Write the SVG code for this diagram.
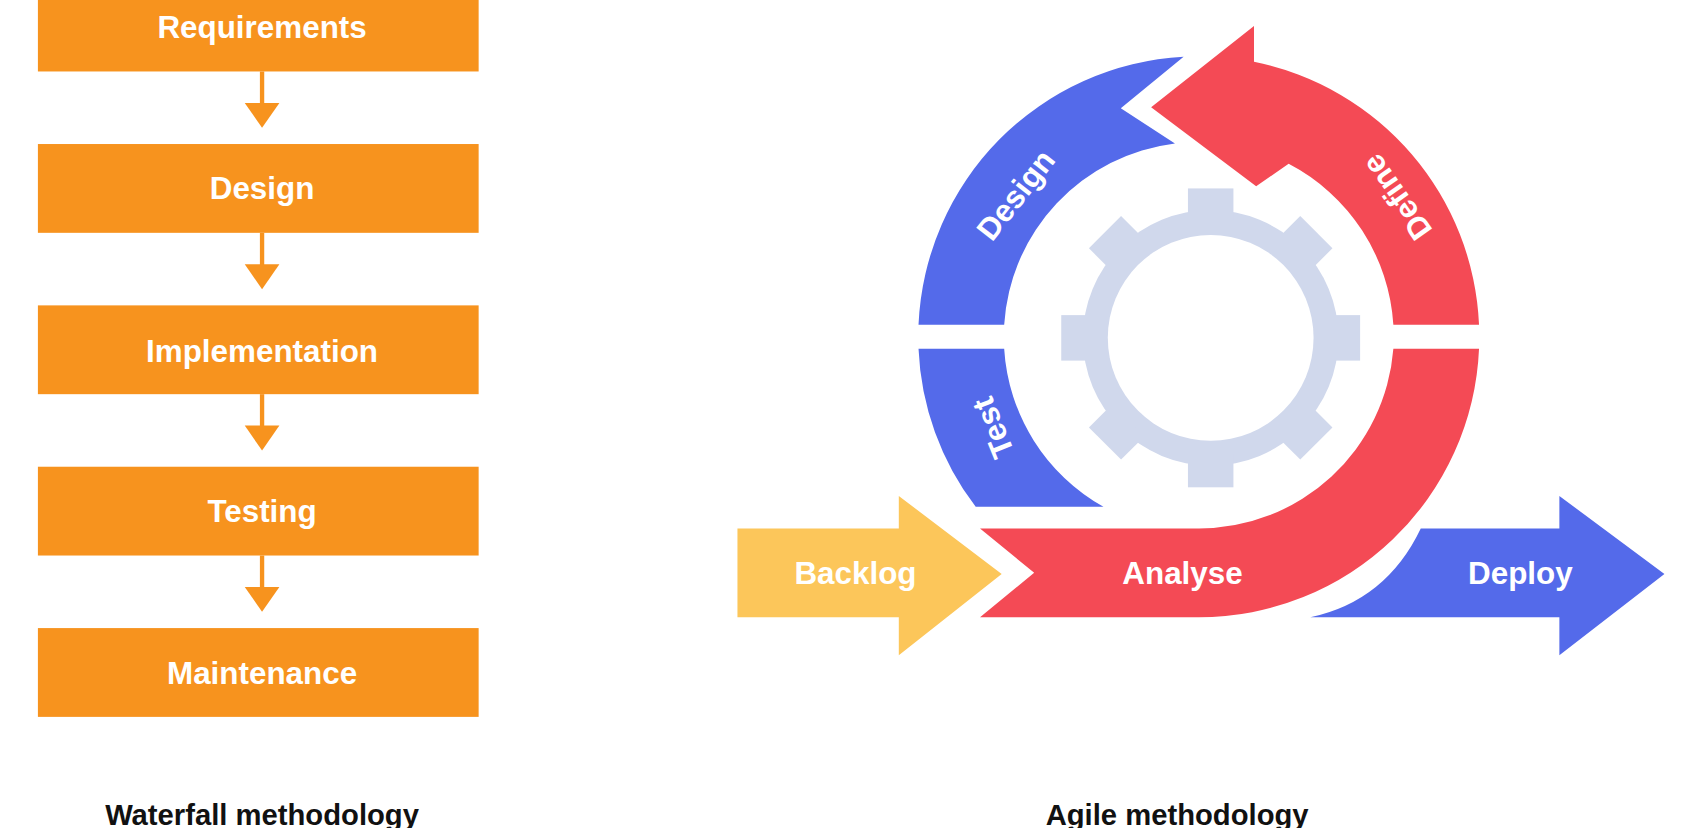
<svg xmlns="http://www.w3.org/2000/svg" width="1698" height="828" viewBox="0 0 1698 828">
<style>
.box{fill:#f7931e}
.wt{fill:#fff;font-family:"Liberation Sans",Arial,sans-serif;font-weight:bold;font-size:29px;text-anchor:middle}
.cap{fill:#111;font-family:"Liberation Sans",Arial,sans-serif;font-weight:bold;font-size:27px;text-anchor:middle}
.blue{fill:#546aea}.red{fill:#f44a55}.yel{fill:#fcc65a}.gear{fill:#d0d8ec}
</style>
<rect width="1698" height="828" fill="#fff"/>
<g transform="scale(1.0829)">
<g id="connectors" fill="#f7931e" stroke="none">
<rect x="240" y="66" width="4" height="32"/><polygon points="226,95 258,95 242,118"/>
<rect x="240" y="215" width="4" height="32"/><polygon points="226,244 258,244 242,267"/>
<rect x="240" y="364" width="4" height="32"/><polygon points="226,393 258,393 242,416"/>
<rect x="240" y="513" width="4" height="32"/><polygon points="226,542 258,542 242,565"/>
</g>
<g id="wf-requirements"><rect class="box" x="35" y="-16" width="407" height="82"/><text class="wt" x="242" y="35">Requirements</text></g>
<g id="wf-design"><rect class="box" x="35" y="133" width="407" height="82"/><text class="wt" x="242" y="184">Design</text></g>
<g id="wf-implementation"><rect class="box" x="35" y="282" width="407" height="82"/><text class="wt" x="242" y="334">Implementation</text></g>
<g id="wf-testing"><rect class="box" x="35" y="431" width="407" height="82"/><text class="wt" x="242" y="482">Testing</text></g>
<g id="wf-maintenance"><rect class="box" x="35" y="580" width="407" height="82"/><text class="wt" x="242" y="632">Maintenance</text></g>
<text class="cap" x="242" y="762">Waterfall methodology</text>

<g id="gear" transform="translate(1118,312)">
<circle class="gear" r="118"/>
<g class="gear">
<rect x="-21" y="-138" width="42" height="30"/>
<rect x="-21" y="-138" width="42" height="30" transform="rotate(45)"/>
<rect x="-21" y="-138" width="42" height="30" transform="rotate(90)"/>
<rect x="-21" y="-138" width="42" height="30" transform="rotate(135)"/>
<rect x="-21" y="-138" width="42" height="30" transform="rotate(180)"/>
<rect x="-21" y="-138" width="42" height="30" transform="rotate(225)"/>
<rect x="-21" y="-138" width="42" height="30" transform="rotate(270)"/>
<rect x="-21" y="-138" width="42" height="30" transform="rotate(315)"/>
</g>
<circle r="95" fill="#fff"/>
</g>
<g id="ag-design"><path class="blue" d="M848.2,300 A259,259 0 0 1 1093,52.4 L1035,100 L1085,132.4 A180,180 0 0 0 927.3,300 Z"/>
<text class="wt" transform="translate(938,180) rotate(-52)" y="10">Design</text></g>
<g id="ag-define"><path class="red" d="M1365.8,300 A259,259 0 0 0 1158,57.1 L1158,24 L1063,99 L1160,172 L1190,151.3 A180,180 0 0 1 1286.7,300 Z"/>
<text class="wt" transform="translate(1290,182) rotate(-125)" y="10">Define</text></g>
<g id="ag-test"><path class="blue" d="M848.2,322 A259,259 0 0 0 901,468 L1019,468 A180,180 0 0 1 927.3,322 Z"/>
<text class="wt" transform="translate(917,395) rotate(-112)" y="10">Test</text></g>
<g id="ag-analyse"><path class="red" d="M1365.8,322 A259,259 0 0 1 1107,570 L905,570 L955,529 L905,488 L1107,488 A180,180 0 0 0 1286.7,322 Z"/>
<text class="wt" x="1092" y="539">Analyse</text></g>
<g id="ag-backlog"><polygon class="yel" points="681,488 830,488 830,458 925,530 830,605 830,570 681,570"/>
<text class="wt" x="790" y="539">Backlog</text></g>
<g id="ag-deploy"><path class="blue" d="M1210,570 Q1280,555 1312,488 L1440,488 L1440,458 L1537,530 L1440,605 L1440,570 Z"/>
<text class="wt" x="1404" y="539">Deploy</text></g>
<text class="cap" x="1087" y="762">Agile methodology</text>
</g>
</svg>
